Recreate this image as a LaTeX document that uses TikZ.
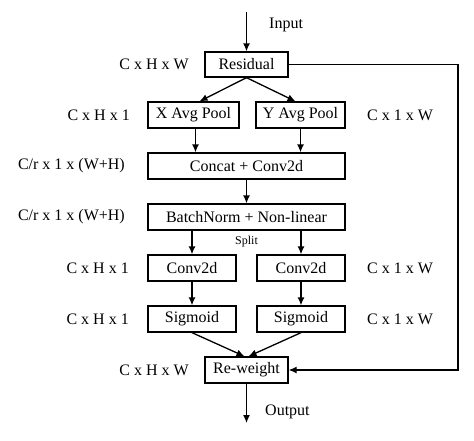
\documentclass[tikz,border=0pt]{standalone}
\usepackage{fontspec}
\setmainfont{Liberation Serif}
\usetikzlibrary{arrows.meta}

\tikzstyle{block}=[draw, line width=1.3pt, minimum height=26pt, inner sep=0pt, font=\fontsize{16}{19}\selectfont]
\tikzstyle{dims}=[font=\fontsize{16}{19}\selectfont, inner sep=0pt]
\tikzstyle{flow}=[->, >={Latex[length=8pt,width=7pt]}, line width=1.3pt]

\begin{document}
\begin{tikzpicture}[x=1pt,y=-1pt]
            \useasboundingbox (0,0) rectangle (474,440);
            \node[block, minimum width=83pt, minimum height=25pt] at (246.5,64.5) (res) {Residual};
            \node[block, minimum width=91pt] at (193.5,115) (xpool) {X Avg Pool};
            \node[block, minimum width=89pt] at (300.5,115) (ypool) {Y Avg Pool};
            \node[block, minimum width=197pt] at (246.5,166) (concat) {Concat + Conv2d};
            \node[block, minimum width=197pt] at (246.5,217) (bn) {BatchNorm + Non-linear};
            \node[block, minimum width=88pt] at (192,268) (convh) {Conv2d};
            \node[block, minimum width=88pt] at (301,268) (convw) {Conv2d};
            \node[block, minimum width=88pt] at (192,319) (sigh) {Sigmoid};
            \node[block, minimum width=88pt] at (301,319) (sigw) {Sigmoid};
            \node[block, minimum width=83pt] at (246.5,370) (rew) {Re-weight};
            \coordinate (in) at (246.5,12);
            \coordinate (out) at (246.5,423);
            \coordinate (skip) at (458,64.5);
            % shapes beside the blocks
            \node[dims, anchor=west] at (269,25) (intext) {Input};
            \node[dims, anchor=west] at (265,412) (outtext) {Output};
            \node[dims, anchor=east] at (189,64.5) (dres) {C x H x W};
            \node[dims, anchor=east] at (130,115) (dxpool) {C x H x 1};
            \node[dims, anchor=west] at (367,115) (dypool) {C x 1 x W};
            \node[dims, anchor=east] at (125,166) (dconcat) {C/r x 1 x (W+H)};
            \node[dims, anchor=east] at (125,217) (dbn) {C/r x 1 x (W+H)};
            \node[dims, anchor=east] at (129,268) (dconvh) {C x H x 1};
            \node[dims, anchor=west] at (367,268) (dconvw) {C x 1 x W};
            \node[dims, anchor=east] at (129,319) (dsigh) {C x H x 1};
            \node[dims, anchor=west] at (367,319) (dsigw) {C x 1 x W};
            \node[dims, anchor=east] at (189,370) (drew) {C x H x W};
            \node[font=\fontsize{12}{14}\selectfont, inner sep=0pt] at (246.5,242) (split) {Split};
            \draw[flow] (in) -- (res);
            \draw[flow] (res.south) -- ([xshift=6pt]xpool.north);
            \draw[flow] (res.south) -- ([xshift=-5pt]ypool.north);
            \draw[flow] ([xshift=2pt]xpool.south) -- ([xshift=2pt]xpool.south |- concat.north);
            \draw[flow] (ypool.south) -- (ypool.south |- concat.north);
            \draw[flow] (concat) -- (bn);
            \draw[flow] (convh.north |- bn.south) -- (convh);
            \draw[flow] (convw.north |- bn.south) -- (convw);
            \draw[flow] (convh) -- (sigh);
            \draw[flow] (convw) -- (sigw);
            \draw[flow] (sigh.south) -- ([xshift=-2pt]rew.north);
            \draw[flow] (sigw.south) -- ([xshift=2pt]rew.north);
            \draw[flow] (res) -- (skip) |- (rew);
            \draw[flow] (rew) -- (out);
        \end{tikzpicture}
\end{document}
